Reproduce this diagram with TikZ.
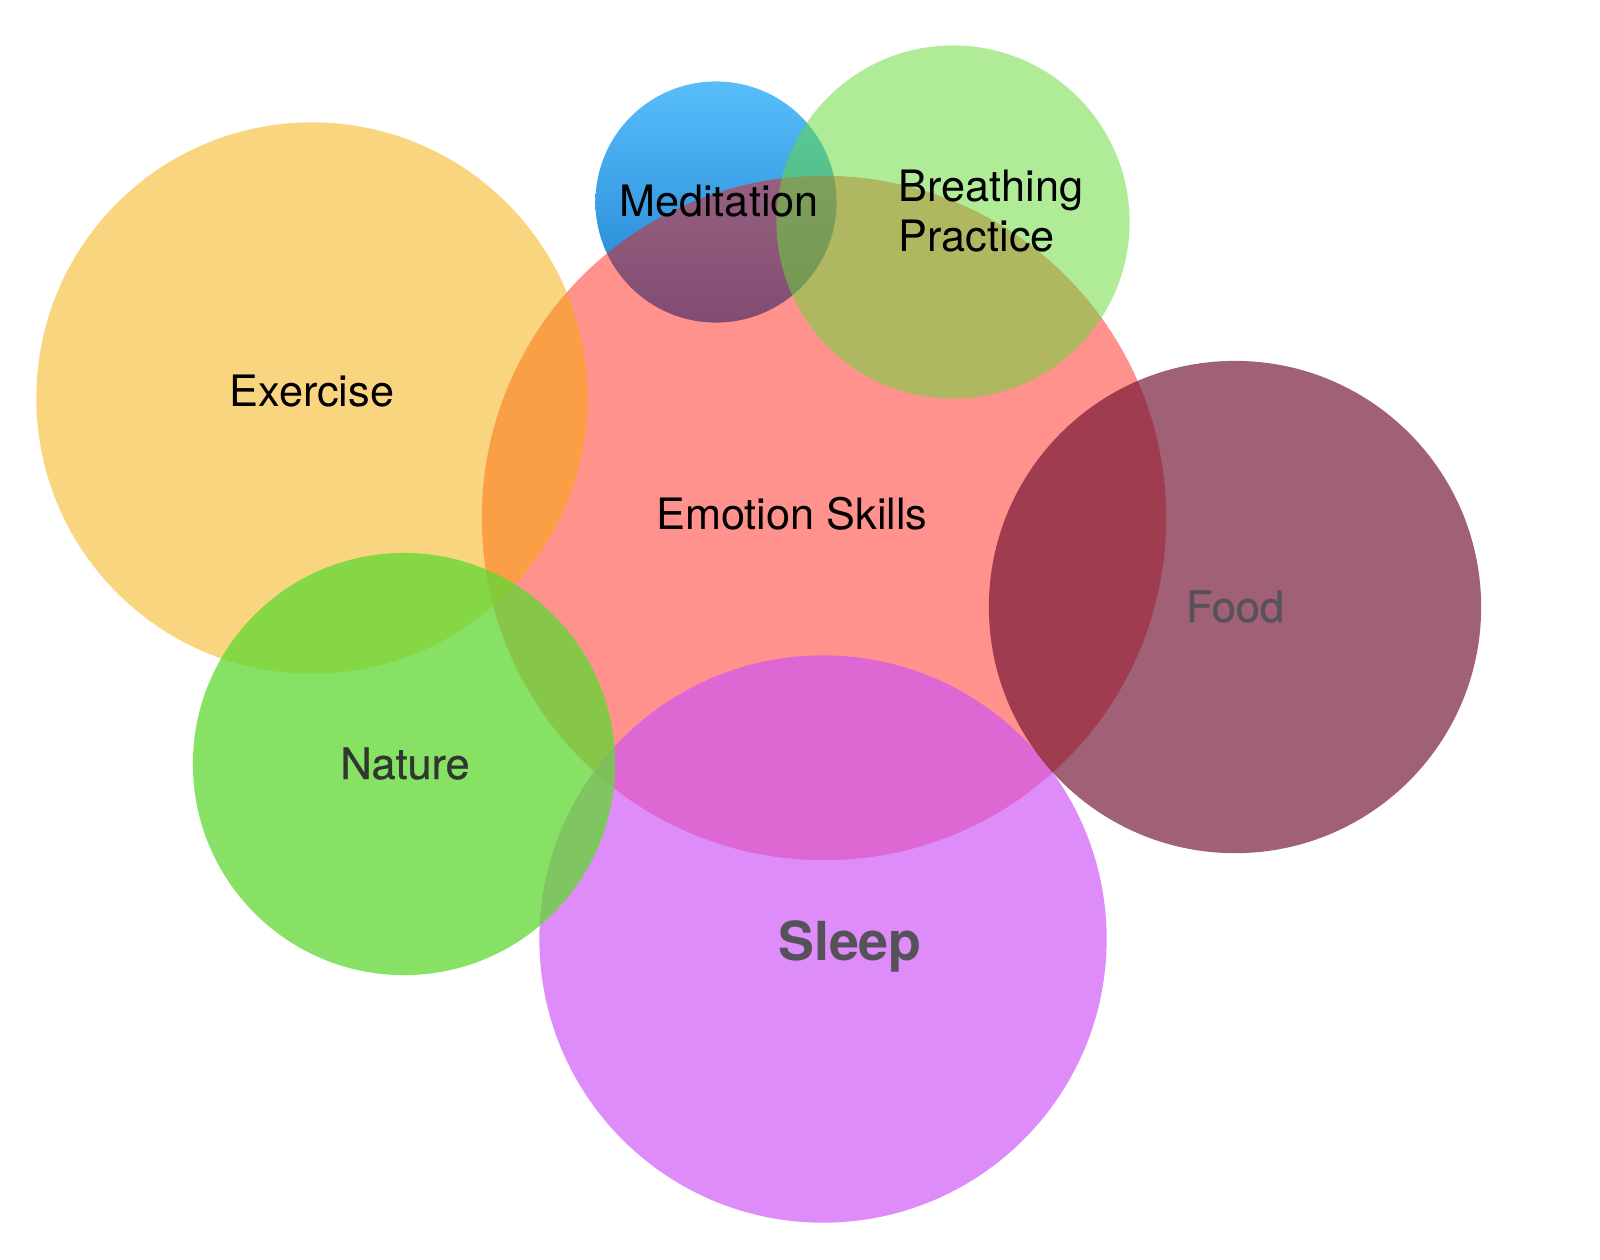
\documentclass[tikz,border=0pt]{standalone}
\usepackage{fontspec}
\setmainfont{TeX Gyre Heros}
\newfontfamily\medfont{TeX Gyre Heros}[FakeBold=0.6]
\usetikzlibrary{positioning}

\definecolor{medtop}{RGB}{88,190,250}
\definecolor{medbot}{RGB}{28,128,208}
\definecolor{emocol}{RGB}{255,13,0}
\definecolor{execol}{RGB}{245,171,0}
\definecolor{sleepcol}{RGB}{206,84,248}
\definecolor{naturecol}{RGB}{99,216,54}
\definecolor{foodcol}{RGB}{113,18,51}
\definecolor{breathcol}{RGB}{104,219,58}
\definecolor{darktag}{RGB}{48,54,48}
\definecolor{graytag}{RGB}{85,82,90}

\tikzset{>=latex}
\tikzset{
  bubble/.style={circle, inner sep=0pt, minimum size=#1},
  tag/.style={font=\fontsize{12.3}{14}\selectfont, text=black, inner sep=0pt, anchor=base}
}

\begin{document}
\begin{tikzpicture}[x=0.01cm, y=-0.01cm]
  \useasboundingbox (0,0) rectangle (1600,1259);
  % circles, back to front
  \node[bubble=2.41cm, top color=medtop, bottom color=medbot] (med) at (716,202) {};
  \node[bubble=6.84cm, fill=emocol, fill opacity=0.45] (emo) at (824,518) {};
  \node[bubble=5.51cm, fill=execol, fill opacity=0.5] (exe) at (312,398) {};
  \node[bubble=5.67cm, fill=sleepcol, fill opacity=0.67] (sleep) at (823,939) {};
  \node[bubble=4.22cm, fill=naturecol, fill opacity=0.77] (nature) at (404,764) {};
  \node[bubble=4.92cm, fill=foodcol, fill opacity=0.67] (food) at (1235,607) {};
  \node[bubble=3.53cm, fill=breathcol, fill opacity=0.52] (breath) at (953,222) {};
  % labels
  \node[tag] (medtxt) at (719,216) {Meditation};
  \node[tag, anchor=base west, align=left] (breathtxt) at (898,251) {Breathing\\Practice};
  \node[tag] (exetxt) at (312,406) {Exercise};
  \node[tag] (emotxt) at (792,529) {Emotion Skills};
  \node[tag, text=graytag, font=\fontsize{12.3}{14}\selectfont\medfont] (foodtxt) at (1235,622) {Food};
  \node[tag, text=darktag, font=\fontsize{12.3}{14}\selectfont\medfont] (naturetxt) at (405,779) {Nature};
  \node[tag, text=graytag, font=\fontsize{15.3}{18}\selectfont\bfseries] (sleeptxt) at (850,960) {Sleep};
\end{tikzpicture}
\end{document}
